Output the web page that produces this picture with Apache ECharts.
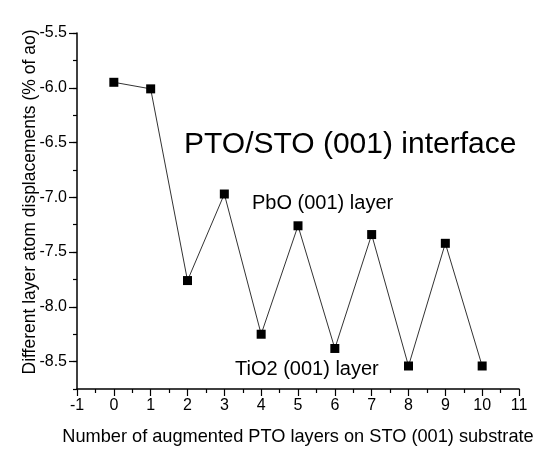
<!DOCTYPE html>
<html>
<head>
<meta charset="utf-8">
<script src="https://cdn.jsdelivr.net/npm/echarts@6/dist/echarts.min.js"></script>
<style>
  html, body { margin: 0; padding: 0; background: #fff; }
  #chart { width: 550px; height: 461px; }
</style>
</head>
<body>
<div id="chart"></div>
<script>
    // layer index vs displacement (% of ao)
    var layers = [0, 1, 2, 3, 4, 5, 6, 7, 8, 9, 10];
    var displacements = [-5.95, -6.01, -7.76, -6.97, -8.25, -7.26, -8.38, -7.34, -8.54, -7.42, -8.54];
    var yMajorTicks = [-8.5, -8.0, -7.5, -7.0, -6.5, -6.0, -5.5];

    var font = '"Liberation Sans", Arial, sans-serif';

    var chart = echarts.init(document.getElementById('chart'), null, { renderer: 'canvas' });

    var option = {
        backgroundColor: '#fff',
        animation: false,
        grid: {
            left: 77,
            right: 31,
            top: 33,
            bottom: 72
        },
        xAxis: {
            type: 'value',
            min: -1,
            max: 11,
            interval: 1,
            name: 'Number of augmented PTO layers on STO (001) substrate',
            nameLocation: 'middle',
            nameGap: 39,
            nameTextStyle: { fontFamily: font, fontSize: 18.2, color: '#000' },
            axisLine: { show: true, onZero: false, lineStyle: { color: '#000', width: 1.5 } },
            axisTick: { show: true, inside: false, length: 7, lineStyle: { color: '#000', width: 1.2 } },
            minorTick: { show: true, splitNumber: 2, length: 4, lineStyle: { color: '#000', width: 1.2 } },
            axisLabel: { fontFamily: font, fontSize: 16, color: '#000', margin: 9 },
            splitLine: { show: false }
        },
        yAxis: [
            {
                type: 'value',
                min: -8.75,
                max: -5.5,
                interval: 0.25,
                axisLine: { show: true, onZero: false, lineStyle: { color: '#000', width: 1.5 } },
                axisTick: { show: true, inside: false, length: 4, lineStyle: { color: '#000', width: 1.2 } },
                axisLabel: {
                    fontFamily: font,
                    fontSize: 16,
                    color: '#000',
                    margin: 10,
                    formatter: function (value) {
                        var v = Math.round(value * 100) / 100;
                        if (Math.abs(v * 2 - Math.round(v * 2)) > 1e-6) {
                            return '';
                        }
                        return v.toFixed(1);
                    }
                },
                splitLine: { show: false }
            },
            {
                // long ticks on the half-unit values
                type: 'value',
                position: 'left',
                min: -8.75,
                max: -5.5,
                axisLine: { show: false, onZero: false },
                axisTick: {
                    show: true,
                    inside: false,
                    length: 8,
                    customValues: yMajorTicks,
                    lineStyle: { color: '#000', width: 1.2 }
                },
                axisLabel: { show: false },
                splitLine: { show: false }
            }
        ],
        graphic: [
            {
                // y axis title
                type: 'text',
                x: 30,
                y: 202,
                rotation: Math.PI / 2,
                style: {
                    text: 'Different layer atom displacements (% of ao)',
                    font: '17.5px ' + font,
                    fill: '#000',
                    align: 'center',
                    verticalAlign: 'middle'
                }
            },
            {
                type: 'text',
                left: 184,
                top: 130,
                style: { text: 'PTO/STO (001) interface', font: '30px ' + font, fill: '#000' }
            },
            {
                type: 'text',
                left: 252,
                top: 193,
                style: { text: 'PbO (001) layer', font: '20px ' + font, fill: '#000' }
            },
            {
                type: 'text',
                left: 235,
                top: 359,
                style: { text: 'TiO2 (001) layer', font: '20px ' + font, fill: '#000' }
            }
        ],
        series: [
            {
                type: 'line',
                data: layers.map(function (x, i) { return [x, displacements[i]]; }),
                symbol: 'rect',
                symbolSize: 9,
                showAllSymbol: true,
                itemStyle: { color: '#000' },
                lineStyle: { color: '#333', width: 1 }
            }
        ]
    };

    chart.setOption(option);
</script>
</body>
</html>
